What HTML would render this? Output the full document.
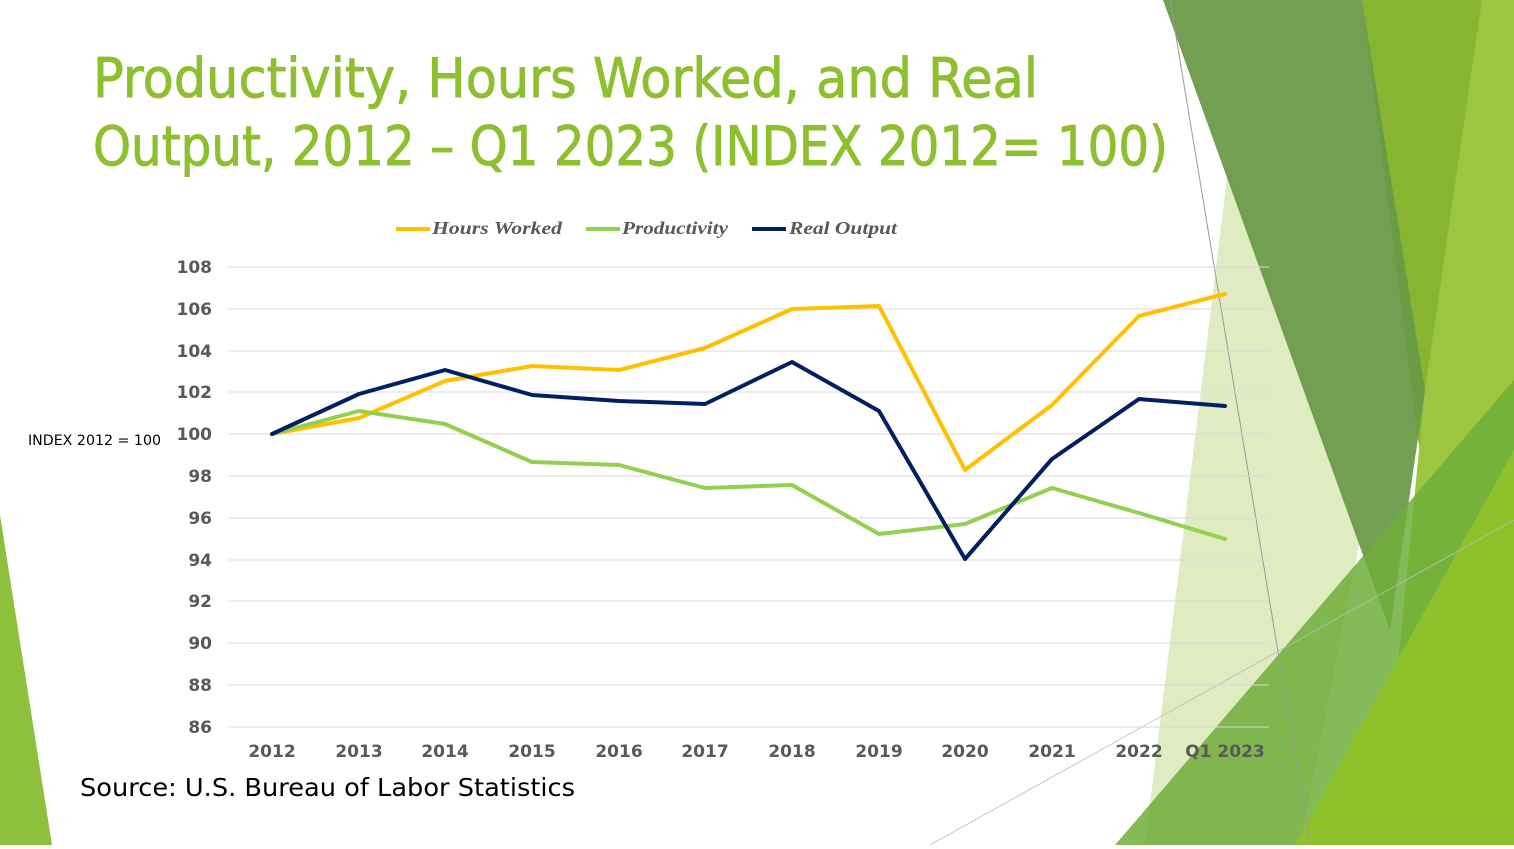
<!DOCTYPE html>
<html><head><meta charset="utf-8"><style>
body{margin:0;width:1514px;height:845px;overflow:hidden;background:#fff;font-family:"DejaVu Sans","Liberation Sans",sans-serif}
</style></head><body>
<svg width="1514" height="845" viewBox="0 0 1514 845" xmlns="http://www.w3.org/2000/svg">
<polygon points="0,515 52,845 0,845" fill="#8dc03c"/>
<polygon points="1362,0 1514,0 1514,845 1470,845" fill="#86b532"/>
<polygon points="1482,0 1514,0 1514,845 1380,845 1425,390" fill="#9cc640"/>
<polygon points="1228,170 1360,540 1300,845 1145,845" fill="#c9e09a" opacity="0.6"/>
<polygon points="1163,0 1362,0 1425,390 1390,630" fill="#6a9a48" opacity="0.95"/>
<polygon points="1115,845 1514,380 1514,845" fill="#6fae3a" opacity="0.85"/>
<polygon points="1295,845 1514,450 1514,845" fill="#8fc12a"/>
<line x1="1170" y1="0" x2="1310" y2="845" stroke="#999" stroke-width="1"/>
<line x1="930" y1="845" x2="1514" y2="520" stroke="#bbb" stroke-width="0.8"/>
<g fill="#8dc02f" stroke="#8dc02f" stroke-width="0.9">
<text x="93" y="97" font-size="54" textLength="945" lengthAdjust="spacingAndGlyphs">Productivity, Hours Worked, and Real</text>
<text x="93" y="165" font-size="54" textLength="1075" lengthAdjust="spacingAndGlyphs">Output, 2012 – Q1 2023 (INDEX 2012= 100)</text>
</g>
<g font-family="Liberation Serif,serif" font-style="italic" font-weight="bold" font-size="18" fill="#595959">
<line x1="396" y1="229" x2="430" y2="229" stroke="#ffc000" stroke-width="4"/><text x="432" y="234" textLength="130" lengthAdjust="spacingAndGlyphs">Hours Worked</text>
<line x1="586" y1="229" x2="620" y2="229" stroke="#92d050" stroke-width="4"/><text x="622" y="234" textLength="106" lengthAdjust="spacingAndGlyphs">Productivity</text>
<line x1="752" y1="229" x2="786" y2="229" stroke="#002060" stroke-width="4"/><text x="789" y="234" textLength="108" lengthAdjust="spacingAndGlyphs">Real Output</text>
</g>
<g stroke="#d9d9d9" stroke-width="1">
<line x1="229" y1="267" x2="1269" y2="267"/><line x1="229" y1="309" x2="1269" y2="309"/>
<line x1="229" y1="351" x2="1269" y2="351"/><line x1="229" y1="392" x2="1269" y2="392"/>
<line x1="229" y1="434" x2="1269" y2="434"/><line x1="229" y1="476" x2="1269" y2="476"/>
<line x1="229" y1="518" x2="1269" y2="518"/><line x1="229" y1="560" x2="1269" y2="560"/>
<line x1="229" y1="601" x2="1269" y2="601"/><line x1="229" y1="643" x2="1269" y2="643"/>
<line x1="229" y1="685" x2="1269" y2="685"/><line x1="229" y1="727" x2="1269" y2="727"/>
</g>
<g font-size="17" font-weight="bold" fill="#595959" text-anchor="end">
<text x="212" y="273">108</text><text x="212" y="315">106</text><text x="212" y="357">104</text>
<text x="212" y="398">102</text><text x="212" y="440">100</text><text x="212" y="482">98</text>
<text x="212" y="524">96</text><text x="212" y="566">94</text><text x="212" y="607">92</text>
<text x="212" y="649">90</text><text x="212" y="691">88</text><text x="212" y="733">86</text>
</g>
<text x="28" y="445" font-size="14" fill="#000" textLength="133" lengthAdjust="spacingAndGlyphs">INDEX 2012 = 100</text>
<g font-size="17" font-weight="bold" fill="#595959" text-anchor="middle">
<text x="272" y="757">2012</text><text x="359" y="757">2013</text><text x="445" y="757">2014</text>
<text x="532" y="757">2015</text><text x="619" y="757">2016</text><text x="705" y="757">2017</text>
<text x="792" y="757">2018</text><text x="879" y="757">2019</text><text x="965" y="757">2020</text>
<text x="1052" y="757">2021</text><text x="1139" y="757">2022</text><text x="1225" y="757">Q1 2023</text>
</g>
<g fill="none" stroke-width="4" stroke-linejoin="round" stroke-linecap="round">
<polyline stroke="#ffc000" points="272,434 359,418 445,381 532,366 619,370 705,348 792,309 879,306 965,470 1052,405 1139,316 1225,294"/>
<polyline stroke="#92d050" points="272,434 359,411 445,424 532,462 619,465 705,488 792,485 879,534 965,524 1052,488 1139,513 1225,539"/>
<polyline stroke="#002060" points="272,434 359,394 445,370 532,395 619,401 705,404 792,362 879,411 965,559 1052,459 1139,399 1225,406"/>
</g>
<text x="80" y="796" font-size="25" fill="#000" textLength="495" lengthAdjust="spacingAndGlyphs">Source: U.S. Bureau of Labor Statistics</text>
</svg>
</body></html>
